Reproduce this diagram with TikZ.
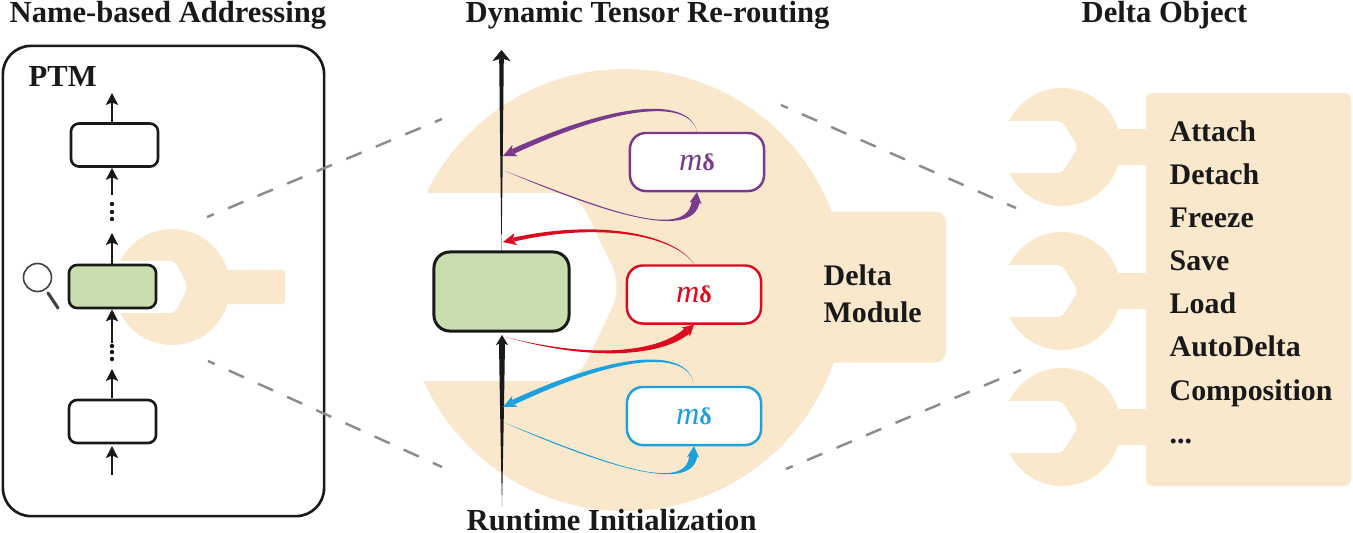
\documentclass[tikz,border=0pt]{standalone}
\usepackage{fontspec}
\setmainfont{Liberation Serif}
\usetikzlibrary{arrows.meta, calc}

\definecolor{wrenchc}{HTML}{FAE8CC}
\definecolor{greenc}{HTML}{C8DEAE}
\definecolor{purplec}{HTML}{773A8C}
\definecolor{redc}{HTML}{DB0A1E}
\definecolor{bluec}{HTML}{1EA0DC}
\definecolor{dashc}{HTML}{8C8C8C}

\tikzset{
  title/.style={anchor=base west, inner sep=0pt, font=\fontsize{8.7}{10}\selectfont\bfseries, text=black!90},
  item/.style={anchor=base west, inner sep=0pt, font=\fontsize{8.5}{10}\selectfont\bfseries, text=black!90},
  smallbox/.style={draw=black!90, line width=0.75pt, rounded corners=2.3pt, minimum width=0.87cm, minimum height=0.43cm, inner sep=0pt},
  deltabox/.style={draw=#1, fill=white, text=#1, line width=0.7pt, rounded corners=4.5pt, minimum width=1.34cm, minimum height=0.58cm, inner sep=0pt},
  zoomline/.style={dashc, line width=0.7pt, dash pattern=on 4.7pt off 4.4pt, dash phase=2.6pt},
  smallarrow/.style={black!90, line width=0.4pt, -{Stealth[length=3.4pt, width=3.5pt, inset=0.7pt]}},
  dotnode/.style={circle, fill=black!90, inner sep=0pt, minimum size=0.045cm}
}

% cx, cy, radius, half jaw, shoulder, tip, half handle, handle end, shift of the round part
\newcommand{\wrench}[9]{
  \fill [wrenchc] (#1,{#2+#9}) circle (#3);
  \fill [wrenchc, rounded corners=0.014pt*#3] (#1,{#2-#7}) rectangle (#8,{#2+#7});
  \fill [white, rounded corners=0.028pt*#3] ({#1-#3-12},{#2-#4}) -- ({#1+#5},{#2-#4}) -- ({#1+#6},#2) -- ({#1+#5},{#2+#4}) -- ({#1-#3-12},{#2+#4}) [sharp corners] -- cycle;
}

% colour, from, control, control, tip, half width at the head, head length, head width
\newcommand{\taperarrow}[8]{
  \coordinate (te) at ($(#5)!#7*0.2276pt!(#4)$);
  \coordinate (tl) at ($(te)!#6*0.2845pt!90:(#4)$);
  \coordinate (tr) at ($(te)!#6*0.2845pt!-90:(#4)$);
  \coordinate (cl) at ($(#4)!#6*0.2pt!-90:(te)$);
  \coordinate (cr) at ($(#4)!#6*0.2pt!90:(te)$);
  \coordinate (dl) at ($(#3)!#6*0.12pt!-90:(#4)$);
  \coordinate (dr) at ($(#3)!#6*0.12pt!90:(#4)$);
  \fill [#1] (#2) .. controls (dl) and (cl) .. (tl) -- (tr) .. controls (cr) and (dr) .. (#2) -- cycle;
  \draw [#1, line width=0.1pt, -{Stealth[length=#7*0.2845pt, width=#8*0.2845pt, inset=#7*0.07pt]}] (te) -- (#5);
}

\begin{document}
\begin{tikzpicture}[x=0.01cm, y=-0.01cm]
\useasboundingbox (0,0) rectangle (1353,532);

%% wrenches
\wrench{172}{287}{58}{26}{3}{16}{17}{285}{0}
\wrench{625}{287}{221}{94}{-48}{-3}{75.5}{946}{3}
\wrench{1062}{147}{59}{26}{0}{16}{18}{1150}{0}
\wrench{1062}{291}{59}{26}{0}{16}{18}{1150}{0}
\wrench{1062}{427}{59}{26}{0}{16}{18}{1150}{0}
\fill [wrenchc, rounded corners=1.8pt] (1146,93) rectangle (1351,486);

%% titles
\node [title] (nametitle) at (9,22) {Name-based Addressing};
\node [title] (dyntitle) at (465,22) {Dynamic Tensor Re-routing};
\node [title] (deltatitle) at (1081,22) {Delta Object};
\node [title] (inittitle) at (466,530.5) {Runtime Initialization};

%% PTM
\node [draw=black!90, line width=0.75pt, rounded corners=8pt, minimum width=3.21cm, minimum height=4.7cm, inner sep=0pt] (ptm) at (163.5,281) {};
\node [title] (ptmlabel) at (28,86) {PTM};

\node [smallbox] (toplayer) at (114.5,145) {};
\node [smallbox, fill=greenc] (hooked) at (112.5,286.5) {};
\node [smallbox] (bottomlayer) at (112.5,421.5) {};

\foreach \i/\y in {1/204, 2/212, 3/219} \node [dotnode] (upper\i) at (112,\y) {};
\foreach \i/\y in {1/346, 2/352, 3/359} \node [dotnode] (lower\i) at (112,\y) {};

\coordinate (ptmout) at (112,93);
\coordinate (upperend) at (112,195);
\coordinate (uppertip) at (112,233);
\coordinate (lowertail) at (112,343);
\coordinate (lowerend) at (112,398);
\coordinate (lowertip) at (112,369);
\coordinate (ptmin) at (112,475);
\coordinate (ptminTip) at (112,446);

\draw [smallarrow] (toplayer.north -| ptmout) -- (ptmout);
\draw [smallarrow] (upperend) -- (toplayer.south -| upperend);
\draw [smallarrow] (hooked.north -| uppertip) -- (uppertip);
\draw [smallarrow] (lowertail) -- (hooked.south -| lowertail);
\draw [smallarrow] (lowerend) -- (lowertip);
\draw [smallarrow] (ptmin) -- (ptminTip);

%% magnifier
\draw [black!75, line width=0.45pt] (37.5,277.5) circle (14);
\draw [black!75, line width=0.9pt, line cap=round] (48,293) -- (58,308);

%% zoom lines
\coordinate (zoomla) at (207,217);
\coordinate (zoomlb) at (442,119);
\coordinate (zoomlc) at (208,361);
\coordinate (zoomld) at (442,467);
\coordinate (zoomra) at (781,105);
\coordinate (zoomrb) at (1016,208);
\coordinate (zoomrc) at (786,469);
\coordinate (zoomrd) at (1021,370);
\draw [zoomline] (zoomla) -- (zoomlb);
\draw [zoomline] (zoomlc) -- (zoomld);
\draw [zoomline] (zoomra) -- (zoomrb);
\draw [zoomline] (zoomrc) -- (zoomrd);

%% middle module
\node [draw=black!90, fill=greenc, line width=0.85pt, rounded corners=4.5pt, minimum width=1.35cm, minimum height=0.79cm, inner sep=0pt] (modl) at (501.5,291.5) {};

\newcommand{\mdelta}{{\fontsize{9.2}{10}\selectfont\itshape m}{\fontsize{6.8}{10}\selectfont\bfseries δ}}
\node [deltabox=purplec] (mpurple) at (697,162) {\mdelta};
\node [deltabox=redc] (mred) at (694,294.5) {\mdelta};
\node [deltabox=bluec] (mblue) at (694,416) {\mdelta};

\node [item] (deltaone) at (823,285) {Delta};
\node [item] (deltatwo) at (823,322) {Module};

%% main path
\coordinate (mainout) at (501.5,50);
\coordinate (maintail) at (502,506);
\coordinate (maintip) at (502,335);
\taperarrow{black!90}{modl.north}{501.5,190}{501.5,120}{mainout}{2.3}{11}{18}
\taperarrow{black!90}{maintail}{502,450}{502,400}{maintip}{3}{10}{12}

%% reroute arrows
\coordinate (ptop) at (503,156);
\coordinate (pfrom) at (505,171);
\coordinate (rtop) at (503,242);
\coordinate (rfrom) at (506,337);
\coordinate (btop) at (503,407);
\coordinate (bfrom) at (505,423);
\taperarrow{purplec}{mpurple.north}{690,100}{625,100}{ptop}{2.6}{13}{12}
\taperarrow{purplec}{pfrom}{590,205}{690,245}{mpurple.south}{4}{11}{12}
\taperarrow{redc}{mred.north}{675,235}{600,220}{rtop}{2}{13}{12}
\taperarrow{redc}{rfrom}{590,360}{660,355}{mred.south}{3.5}{11}{12}
\taperarrow{bluec}{mblue.north}{690,350}{625,350}{btop}{2.6}{13}{12}
\taperarrow{bluec}{bfrom}{590,458}{690,498}{mblue.south}{4}{11}{12}

%% delta object list
\foreach \txt/\y/\n in {Attach/141/a, Detach/184/b, Freeze/227/c, Save/270/d, Load/313/e, AutoDelta/356/f, Composition/400/g}
  \node [item] (list\n) at (1169,\y) {\txt};
\node [item] (listh) at (1169,443) {{.}{.}{.}};
\end{tikzpicture}
\end{document}
